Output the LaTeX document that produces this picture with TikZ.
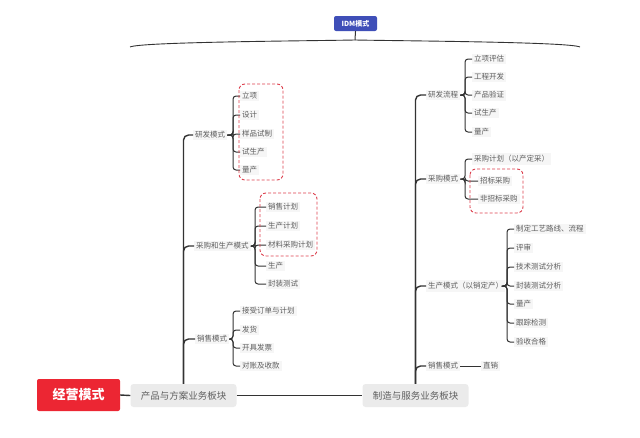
\documentclass[tikz,border=0pt]{standalone}
\usepackage{fontspec}
\setmainfont{Noto Sans CJK SC}
\definecolor{linegray}{HTML}{333333}
\definecolor{textgray}{HTML}{5E5E5E}
\definecolor{labgray}{HTML}{F6F6F6}
\definecolor{blockgray}{HTML}{EBEBEB}
\definecolor{rootred}{HTML}{EC2633}
\definecolor{boxred}{HTML}{DC3F4D}
\definecolor{idmblue}{HTML}{3F4FB8}

\begin{document}
\begin{tikzpicture}[x=1pt,y=-1pt,
  root/.style={fill=rootred,rounded corners=2,text=white,font=\fontsize{13}{13}\selectfont\bfseries,minimum width=83,minimum height=32},
  idm/.style={fill=idmblue,rounded corners=2,text=white,font=\fontsize{7}{7}\selectfont\bfseries,minimum width=43,minimum height=15,inner sep=1},
  block/.style={fill=blockgray,rounded corners=3,text=textgray,font=\fontsize{9.5}{10}\selectfont,minimum width=106,minimum height=23},
  lab/.style={fill=labgray,text=textgray,font=\fontsize{7.5}{8}\selectfont,inner sep=2,anchor=west},
  trunk/.style={draw=linegray,line width=1.4,rounded corners=5},
  twig/.style={draw=linegray,line width=1,rounded corners=3},
  brace/.style={draw=linegray,line width=0.9},
  redbox/.style={draw=boxred,dash pattern=on 3pt off 2pt,line width=0.9,rounded corners=6}]
\useasboundingbox (0,0) rectangle (640,437);
%top
\node[idm] (idm) at (355.5,23.5) {IDM模式};
\draw[brace] (130,47) .. controls (140,42) and (300,41) .. (355,40) .. controls (410,41) and (570,42) .. (580,47);
\draw[twig] (idm.south) -- (355,40);
%root
\node[root] (root) at (78.5,395) {经营模式};
\node[block] (prodL) at (183.5,395.5) {产品与方案业务板块};
\node[block] (prodR) at (415.5,395.5) {制造与服务业务板块};
\draw[trunk] (root.east) -- (prodL.west);
\draw[trunk] (prodL.east) -- (prodR.west);
%left
\node[lab] (rdL) at (193,135) {研发模式};
\node[lab] (cgL) at (194,246) {采购和生产模式};
\node[lab] (xsL) at (195,339) {销售模式};
\draw[trunk] (prodL.north) |- (rdL.west);
\draw[trunk] (prodL.north) |- (cgL.west);
\draw[trunk] (prodL.north) |- (xsL.west);
\node[lab] (l11) at (240,96) {立项};
\node[lab] (l12) at (240,115) {设计};
\node[lab] (l13) at (240,134) {样品试制};
\node[lab] (l14) at (240,152) {试生产};
\node[lab] (l15) at (240,170) {量产};
\draw[twig] (rdL.east) -- (233,135) |- (l11.west);
\draw[twig] (rdL.east) -- (233,135) |- (l12.west);
\draw[twig] (rdL.east) -- (233,135) |- (l13.west);
\draw[twig] (rdL.east) -- (233,135) |- (l14.west);
\draw[twig] (rdL.east) -- (233,135) |- (l15.west);
\draw[redbox] (239,84) rectangle (283,180);
\node[lab] (l21) at (266,207) {销售计划};
\node[lab] (l22) at (266,226) {生产计划};
\node[lab] (l23) at (266,245) {材料采购计划};
\node[lab] (l24) at (266,266) {生产};
\node[lab] (l25) at (266,284) {封装测试};
\draw[twig] (cgL.east) -- (255,246) |- (l21.west);
\draw[twig] (cgL.east) -- (255,246) |- (l22.west);
\draw[twig] (cgL.east) -- (255,246) |- (l23.west);
\draw[twig] (cgL.east) -- (255,246) |- (l24.west);
\draw[twig] (cgL.east) -- (255,246) |- (l25.west);
\draw[redbox] (260,193) rectangle (317,256);
\node[lab] (l31) at (240,311) {接受订单与计划};
\node[lab] (l32) at (240,330) {发货};
\node[lab] (l33) at (240,348) {开具发票};
\node[lab] (l34) at (240,366) {对账及收款};
\draw[twig] (xsL.east) -- (233,339) |- (l31.west);
\draw[twig] (xsL.east) -- (233,339) |- (l32.west);
\draw[twig] (xsL.east) -- (233,339) |- (l33.west);
\draw[twig] (xsL.east) -- (233,339) |- (l34.west);
%right
\node[lab] (rdR) at (426,95) {研发流程};
\node[lab] (cgR) at (426,179) {采购模式};
\node[lab] (scR) at (426,286) {生产模式（以销定产）};
\node[lab] (xsR) at (426,366) {销售模式};
\draw[trunk] (prodR.north) |- (rdR.west);
\draw[trunk] (prodR.north) |- (cgR.west);
\draw[trunk] (prodR.north) |- (scR.west);
\draw[trunk] (prodR.north) |- (xsR.west);
\node[lab] (r11) at (472,59) {立项评估};
\node[lab] (r12) at (472,77) {工程开发};
\node[lab] (r13) at (472,95) {产品验证};
\node[lab] (r14) at (472,113) {试生产};
\node[lab] (r15) at (472,132) {量产};
\draw[twig] (rdR.east) -- (465,95) |- (r11.west);
\draw[twig] (rdR.east) -- (465,95) |- (r12.west);
\draw[twig] (rdR.east) -- (465,95) |- (r13.west);
\draw[twig] (rdR.east) -- (465,95) |- (r14.west);
\draw[twig] (rdR.east) -- (465,95) |- (r15.west);
\node[lab] (r21) at (472,159) {采购计划（以产定采）};
\node[lab] (r22) at (478,181) {招标采购};
\node[lab] (r23) at (478,199) {非招标采购};
\draw[twig] (cgR.east) -- (465,179) |- (r21.west);
\draw[twig] (cgR.east) -- (465,179) |- (r22.west);
\draw[twig] (cgR.east) -- (465,179) |- (r23.west);
\draw[redbox] (470,169) rectangle (523,213);
\node[lab] (r31) at (514,229) {制定工艺路线、流程};
\node[lab] (r32) at (514,248) {评审};
\node[lab] (r33) at (514,267) {技术测试分析};
\node[lab] (r34) at (514,286) {封装测试分析};
\node[lab] (r35) at (514,304) {量产};
\node[lab] (r36) at (514,323) {跟踪检测};
\node[lab] (r37) at (514,342) {验收合格};
\draw[twig] (scR.east) -- (507,286) |- (r31.west);
\draw[twig] (scR.east) -- (507,286) |- (r32.west);
\draw[twig] (scR.east) -- (507,286) |- (r33.west);
\draw[twig] (scR.east) -- (507,286) |- (r34.west);
\draw[twig] (scR.east) -- (507,286) |- (r35.west);
\draw[twig] (scR.east) -- (507,286) |- (r36.west);
\draw[twig] (scR.east) -- (507,286) |- (r37.west);
\node[lab] (r41) at (481,366) {直销};
\draw[twig] (xsR.east) -- (r41.west);
\end{tikzpicture}
\end{document}
